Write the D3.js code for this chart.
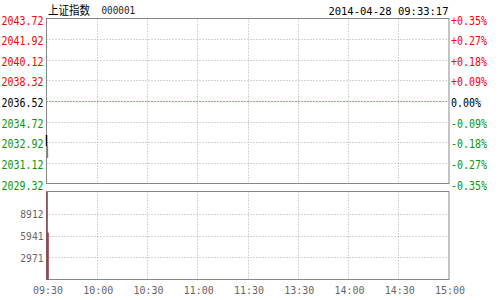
<!DOCTYPE html>
<html>
<head>
<meta charset="utf-8">
<script src="https://cdn.jsdelivr.net/npm/d3@7"></script>
<style>
  body { margin: 0; background: #fff; }
  svg { display: block; }
  .mono { font-family: "DejaVu Sans Mono", monospace; }
</style>
</head>
<body>
<script>
// chart data
const priceTicks = [2043.72, 2041.92, 2040.12, 2038.32, 2036.52, 2034.72, 2032.92, 2031.12, 2029.32];
const pctTicks = ["+0.35%", "+0.27%", "+0.18%", "+0.09%", "0.00%", "-0.09%", "-0.18%", "-0.27%", "-0.35%"];
const prevClose = 2036.52;
const volTicks = [8912, 5941, 2971];
const volMax = 11883;
const timeLabels = ["09:30", "10:00", "10:30", "11:00", "11:30", "13:30", "14:00", "14:30", "15:00"];

// minutes since 09:30 (trading minutes)
const priceMin = [0, 0.05];
const priceVal = [2033.55, 2032.60];
const avgMin = [0.6, 0.65];
const avgVal = [2032.59, 2031.55];
const volMinute = [0, 0.6];
const volValue = [11816, 6320];

const w = 500, h = 300;
const left = 46.5, right = 448.5;

const svg = d3.select("body").append("svg")
  .attr("width", w).attr("height", h);

const xScale = d3.scaleLinear().domain([0, 240]).range([left, right]);
const yScale = d3.scaleLinear().domain([2029.32, 2043.72]).range([183.5, 18.5]);
const vScale = d3.scaleLinear().domain([0, volMax]).range([279.5, 191.5]);

const red = "#ff0000", green = "#0a960a", grey = "#666";
const colorOf = v => v > prevClose + 1e-6 ? red : (v < prevClose - 1e-6 ? green : "#000");

// squeezed mono text, about 6px per char
function monoText(g, str, x, y, anchor, size, fill, cw) {
  const t = g.append("text")
    .attr("class", "mono")
    .attr("x", x).attr("y", y)
    .attr("text-anchor", anchor)
    .attr("font-size", size)
    .attr("fill", fill)
    .text(str);
  if (cw) t.attr("textLength", str.length * cw).attr("lengthAdjust", "spacingAndGlyphs");
  return t;
}

// grid - price panel
const xTicks = d3.range(0, 241, 30);
svg.append("g").selectAll("line")
  .data(xTicks.slice(1, -1))
  .join("line")
  .attr("x1", d => Math.round(xScale(d)) + 0.5).attr("x2", d => Math.round(xScale(d)) + 0.5)
  .attr("y1", yScale.range()[1]).attr("y2", yScale.range()[0])
  .attr("stroke", "#aaa").attr("stroke-dasharray", "1,2");

svg.append("g").selectAll("line")
  .data(priceTicks.slice(1, -1))
  .join("line")
  .attr("x1", left).attr("x2", right)
  .attr("y1", d => Math.round(yScale(d)) + 0.5).attr("y2", d => Math.round(yScale(d)) + 0.5)
  .attr("stroke", d => d === prevClose ? red : "#aaa")
  .attr("stroke-dasharray", "1,2");

// grid - volume panel
svg.append("g").selectAll("line")
  .data(xTicks.slice(1, -1))
  .join("line")
  .attr("x1", d => Math.round(xScale(d)) + 0.5).attr("x2", d => Math.round(xScale(d)) + 0.5)
  .attr("y1", vScale.range()[1]).attr("y2", vScale.range()[0])
  .attr("stroke", "#aaa").attr("stroke-dasharray", "1,2");

svg.append("g").selectAll("line")
  .data(volTicks)
  .join("line")
  .attr("x1", left).attr("x2", right)
  .attr("y1", d => Math.round(vScale(d)) + 0.5).attr("y2", d => Math.round(vScale(d)) + 0.5)
  .attr("stroke", "#aaa").attr("stroke-dasharray", "1,2");

// frames
svg.append("rect")
  .attr("x", left).attr("y", 18.5)
  .attr("width", right - left + 0.5).attr("height", 165)
  .attr("fill", "none").attr("stroke", "#888");
svg.append("rect")
  .attr("x", left).attr("y", 191.5)
  .attr("width", right - left + 0.5).attr("height", 88)
  .attr("fill", "none").attr("stroke", "#888");

// lines
const line = d3.line().x(d => xScale(d[0])).y(d => yScale(d[1]));
svg.append("path")
  .datum(priceMin.map((m, i) => [m, priceVal[i]]))
  .attr("d", line)
  .attr("fill", "none").attr("stroke", "#000").attr("stroke-width", 1.5);
svg.append("path")
  .datum(avgMin.map((m, i) => [m, avgVal[i]]))
  .attr("d", line)
  .attr("fill", "none").attr("stroke", "#6786b0").attr("stroke-width", 1.2);

// volume bars
svg.append("g").selectAll("rect")
  .data(volMinute.map((m, i) => ({ m: m, v: volValue[i] })))
  .join("rect")
  .attr("x", d => xScale(d.m))
  .attr("y", d => vScale(d.v))
  .attr("width", 1.2)
  .attr("height", d => vScale(0) - vScale(d.v))
  .attr("fill", "#8e1f2e");

// axis labels
const labels = svg.append("g");
priceTicks.forEach(v => monoText(labels, v.toFixed(2), 43.5, yScale(v) + 6, "end", 12, colorOf(v), 6));
pctTicks.forEach((s, i) => monoText(labels, s, 451, yScale(priceTicks[i]) + 6, "start", 12, colorOf(priceTicks[i]), 6));
volTicks.forEach(v => monoText(labels, String(v), 43.5, vScale(v) + 4.5, "end", 10, grey, 5.8));
timeLabels.forEach((s, i) => monoText(labels, s, xScale(xTicks[i]) + 1.5, 293.5, "middle", 10, grey, 6));

// title
svg.append("text")
  .attr("x", 48).attr("y", 15)
  .attr("font-family", "'Noto Sans CJK SC', sans-serif")
  .attr("font-size", 12)
  .attr("textLength", 42).attr("lengthAdjust", "spacingAndGlyphs")
  .attr("fill", "#000")
  .text("上证指数");
monoText(svg, "000001", 101.5, 14, "start", 10, "#222", 5.6);
monoText(svg, "2014-04-28 09:33:17", 448.5, 15, "end", 10.5, "#000", null);
</script>
</body>
</html>
